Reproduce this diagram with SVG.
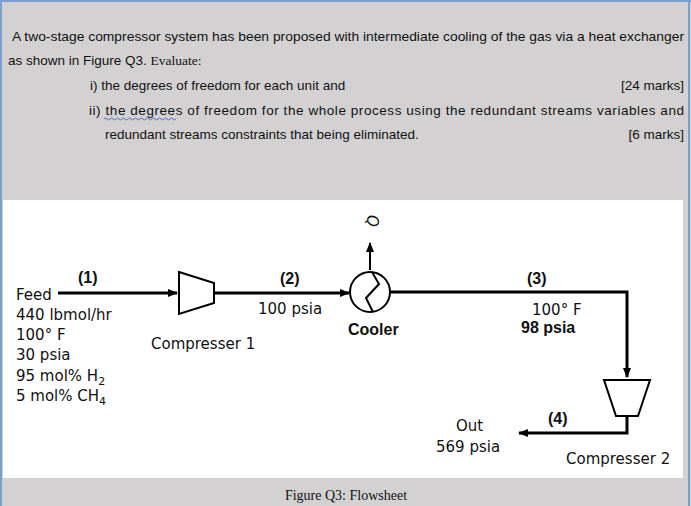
<svg xmlns="http://www.w3.org/2000/svg" width="691" height="506" viewBox="0 0 691 506">
<style>
.q{font-family:"Liberation Sans",Arial,sans-serif;font-size:13.5px;fill:#111}
.d{font-family:"DejaVu Sans",sans-serif;font-size:15px;fill:#111}
.b{font-family:"Liberation Sans",Arial,sans-serif;font-size:16px;font-weight:bold;fill:#111}
.ln{stroke:#000;stroke-width:3;fill:none}
.u{stroke:#000;stroke-width:2;fill:#fff}
</style>
<defs><marker id="a" markerWidth="10" markerHeight="8" refX="9" refY="4" orient="auto" markerUnits="userSpaceOnUse"><path d="M0,0 L10,4 L0,8 Z" fill="#000"/></marker></defs>
<rect width="691" height="506" fill="#d3d1d2"/>
<line x1="0" y1="1" x2="691" y2="1" stroke="#7a9fd0" stroke-width="2"/>
<line x1="1" y1="0" x2="1" y2="506" stroke="#7a9fd0" stroke-width="2"/>
<line x1="689" y1="0" x2="689" y2="506" stroke="#7a9fd0" stroke-width="2"/>
<text class="q" x="12" y="41" textLength="672" lengthAdjust="spacingAndGlyphs">A two-stage compressor system has been proposed with intermediate cooling of the gas via a heat exchanger</text>
<text class="q" x="8" y="65">as shown in Figure Q3. <tspan font-family="Liberation Serif,serif">Evaluate:</tspan></text>
<text class="q" x="90" y="90">i)  the  degrees of  freedom for each unit and</text>
<text class="q" x="684" y="90" text-anchor="end">[24 marks]</text>
<text class="q" x="89" y="115" textLength="595" lengthAdjust="spacing">ii) the  degrees of  freedom for  the whole  process using  the redundant streams  variables  and</text>
<path d="M104,119 q1.5,-2 3,0 t3,0 t3,0 t3,0 t3,0 t3,0 t3,0 t3,0 t3,0 t3,0 t3,0 t3,0 t3,0 t3,0 t3,0 t3,0 t3,0 t3,0 t3,0 t3,0 t3,0 t3,0 t3,0 t3,0" stroke="#4a6fd0" fill="none" stroke-width="1"/>
<text class="q" x="105" y="139">redundant streams constraints that being eliminated.</text>
<text class="q" x="684" y="139" text-anchor="end">[6 marks]</text>
<rect x="3" y="200" width="680" height="278" fill="#fff"/>
<g id="connectors">
<line class="ln" x1="58" y1="293" x2="177" y2="293" marker-end="url(#a)"/>
<line class="ln" x1="214" y1="293" x2="349" y2="293" marker-end="url(#a)"/>
<line x1="370" y1="270" x2="370" y2="243" stroke="#000" stroke-width="2" marker-end="url(#a)"/>
<polyline class="ln" points="390,292 627,292 627,377" marker-end="url(#a)"/>
<polyline class="ln" points="627,417 627,433 519,433" marker-end="url(#a)"/>
</g>
<g id="compressor1"><polygon class="u" points="179,272 214,283 214,303 179,314"/></g>
<g id="cooler"><circle class="u" cx="370" cy="292" r="20"/><polyline points="372,272 379,284 366,298 373,312" stroke="#000" stroke-width="2" fill="none"/></g>
<g id="compressor2"><polygon class="u" points="604,380 650,380 638,416 616,416"/></g>
<g id="labels">
<text class="d" x="367" y="223" transform="rotate(90 371 219)" font-style="italic" font-size="13">Q</text>
<text class="b" x="78" y="283">(1)</text>
<text class="d" x="16" y="300">Feed</text>
<text class="d" x="16" y="320">440 lbmol/hr</text>
<text class="d" x="16" y="340">100° F</text>
<text class="d" x="16" y="360">30 psia</text>
<text class="d" x="16" y="381">95 mol% H<tspan font-size="11" dy="4">2</tspan></text>
<text class="d" x="16" y="401">5 mol% CH<tspan font-size="11" dy="4">4</tspan></text>
<text class="b" x="280" y="284">(2)</text>
<text class="d" x="258" y="314">100 psia</text>
<text class="d" x="151" y="349">Compresser 1</text>
<text class="b" x="348" y="335">Cooler</text>
<text class="b" x="527" y="284">(3)</text>
<text class="d" x="532" y="315">100° F</text>
<text class="b" x="521" y="333">98 psia</text>
<text class="b" x="548" y="424">(4)</text>
<text class="d" x="456" y="431">Out</text>
<text class="d" x="436" y="452">569 psia</text>
<text class="d" x="566" y="464">Compresser 2</text>
<text x="346" y="500" font-family="Liberation Serif,serif" font-size="14" text-anchor="middle" fill="#111">Figure Q3: Flowsheet</text>
</g>
</svg>
